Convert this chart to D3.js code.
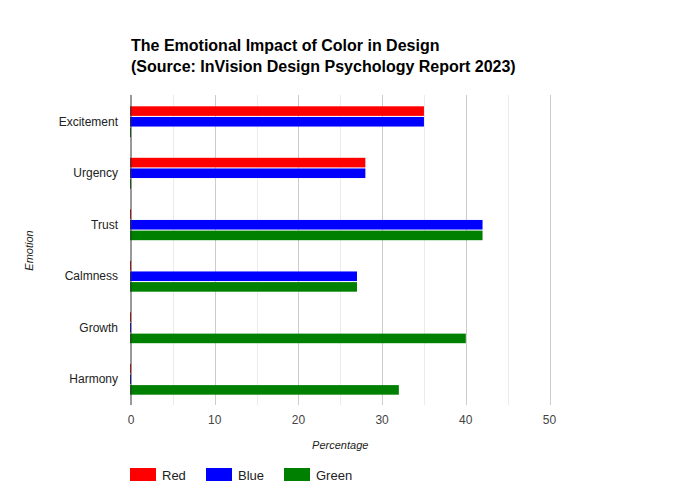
<!DOCTYPE html>
<html><head><meta charset="utf-8">
<script src="https://cdn.jsdelivr.net/npm/d3@7"></script>
<style>body{margin:0;background:#fff}svg{display:block;font-family:"Liberation Sans",Arial,sans-serif}</style>
</head><body><svg id="c" width="680" height="500"></svg>
<script>
const categories = ["Excitement","Urgency","Trust","Calmness","Growth","Harmony"];
const seriesNames = ["Red","Blue","Green"];
const seriesColors = ["#ff0000","#0000ff","#008000"];
const redValues = [35,28,0,0,0,0];
const blueValues = [35,28,42,27,0,0];
const greenValues = [0,0,42,27,40,32];
const xTicks = [0,10,20,30,40,50];
const minorTicks = [5,15,25,35,45];
const titleLines = ["The Emotional Impact of Color in Design","(Source: InVision Design Psychology Report 2023)"];

const svg = d3.select("#c");
const L = 131, R = 549.5, T = 96, B = 405;
const x = d3.scaleLinear().domain([0,50]).range([L,R]);
const y = d3.scaleBand().domain(categories).range([T,B]).paddingInner(0.4).paddingOuter(0.2);
const ys = d3.scaleBand().domain(seriesNames).range([0,y.bandwidth()]).paddingInner(0.1);
const values = [redValues,blueValues,greenValues];

// gridlines
svg.append("g").selectAll("line").data(minorTicks).join("line")
  .attr("x1",d=>Math.round(x(d))+0.5).attr("x2",d=>Math.round(x(d))+0.5).attr("y1",T-1).attr("y2",B)
  .attr("stroke","#ebebeb");
svg.append("g").selectAll("line").data(xTicks.slice(1)).join("line")
  .attr("x1",d=>Math.round(x(d))+0.5).attr("x2",d=>Math.round(x(d))+0.5).attr("y1",T-1).attr("y2",B)
  .attr("stroke","#cccccc");

// bars
seriesNames.forEach((s,si)=>{
  svg.append("g").selectAll("rect").data(categories).join("rect")
    .attr("x",x(0)-1)
    .attr("y",c=>y(c)+ys(s))
    .attr("height",ys.bandwidth())
    .attr("width",(c,i)=>Math.max(1,x(values[si][i])-x(0)+1))
    .attr("fill",seriesColors[si]);
});

// baseline
svg.append("line").attr("x1",x(0)).attr("x2",x(0)).attr("y1",T-1).attr("y2",B).attr("stroke","#333").attr("stroke-width",1);

// x tick labels
svg.append("g").selectAll("text").data(xTicks).join("text")
  .attr("x",d=>x(d)).attr("y",424).attr("text-anchor","middle")
  .attr("font-size",12).attr("fill","#444").text(d=>d);

// y labels
svg.append("g").selectAll("text").data(categories).join("text")
  .attr("x",118).attr("y",c=>y(c)+y.bandwidth()/2+4).attr("text-anchor","end")
  .attr("font-size",12).attr("fill","#222").text(d=>d);

// axis titles
svg.append("text").attr("x",x(25)).attr("y",449).attr("text-anchor","middle")
  .attr("font-size",11).attr("font-style","italic").attr("fill","#222").text("Percentage");
svg.append("text").attr("transform",`translate(33,${(T+B)/2}) rotate(-90)`).attr("text-anchor","middle")
  .attr("font-size",11).attr("font-style","italic").attr("fill","#222").text("Emotion");

// title
svg.append("g").selectAll("text").data(titleLines).join("text")
  .attr("x",131).attr("y",(d,i)=>51+i*21).attr("font-size",16).attr("font-weight","bold").attr("fill","#000").text(d=>d);

// legend
const lx = [130,206,284];
const lg = svg.append("g").selectAll("g").data(seriesNames).join("g")
  .attr("transform",(d,i)=>`translate(${lx[i]},468)`);
lg.append("rect").attr("width",26).attr("height",13).attr("fill",(d,i)=>seriesColors[i]);
lg.append("text").attr("x",32).attr("y",11.5).attr("font-size",13).attr("fill","#222").text(d=>d);
</script></body></html>
